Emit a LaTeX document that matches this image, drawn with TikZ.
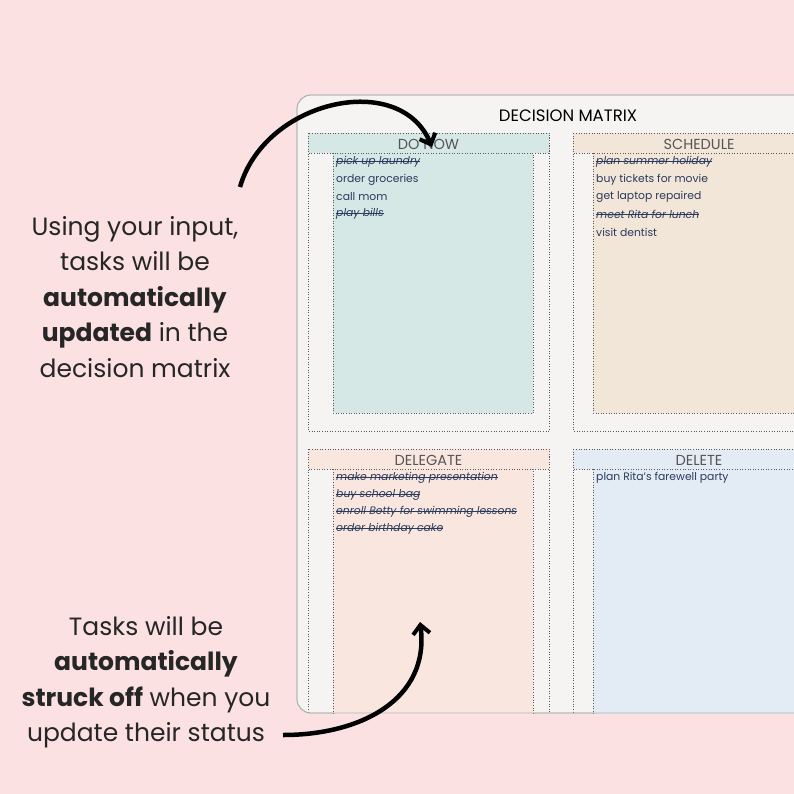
\documentclass[tikz,border=0pt]{standalone}
\usepackage{fontspec}
\setmainfont{Poppins}
\usetikzlibrary{arrows.meta}
\definecolor{bgpink}{HTML}{FBE1E1}
\definecolor{panel}{HTML}{F6F4F3}
\definecolor{teal}{HTML}{D6E8E6}
\definecolor{sand}{HTML}{F2E6D9}
\definecolor{peach}{HTML}{F9E7DF}
\definecolor{sky}{HTML}{E3EBF5}
\definecolor{navy}{HTML}{2B3A5C}
\definecolor{hdr}{HTML}{555555}
\tikzset{
 dotb/.style={draw=gray!70!black, dotted, line width=0.6pt},
 hdrtext/.style={font=\fontsize{14.5}{15}\selectfont, text=hdr},
 task/.style={anchor=west, inner sep=0pt, font=\fontsize{10.8}{11}\selectfont, text=navy},
 big/.style={align=center, font=\fontsize{25}{35.5}\selectfont, text=black!85},
 arr/.style={line width=4.5pt, -{Straight Barb[length=9pt,width=17pt,line width=4pt]}}
}
\newsavebox\strkbox
\newcommand{\done}[1]{\sbox\strkbox{\itshape #1}\rlap{\usebox\strkbox}\rule[0.28em]{\wd\strkbox}{0.7pt}}
\begin{document}
\begin{tikzpicture}[x=1pt,y=-1pt]
\useasboundingbox (0,0) rectangle (794,794);
\fill[bgpink] (0,0) rectangle (794,794);
\clip (0,0) rectangle (794,794);
\filldraw[fill=panel, draw=gray!60, line width=0.8pt, rounded corners=14pt] (297,95) rectangle (820,713);
\node[font=\fontsize{16.5}{17}\selectfont] (title) at (568,116) {DECISION MATRIX};
% Q1
\draw[dotb] (308,133) rectangle (549,431);
\fill[teal] (308,133) rectangle (549,153);
\draw[dotb] (308,133) rectangle (549,153);
\filldraw[fill=teal, dotb] (333,153) rectangle (533,413);
\node[hdrtext] (h1) at (428.5,144) {DO NOW};
\node[task] (t11) at (336,162) {\done{pick up laundry}};
\node[task] (t12) at (336,180) {order groceries};
\node[task] (t13) at (336,197) {call mom};
\node[task] (t14) at (336,214) {\done{play bills}};
% Q2
\draw[dotb] (573,133) rectangle (820,431);
\fill[sand] (573,133) rectangle (820,153);
\draw[dotb] (573,133) rectangle (820,153);
\filldraw[fill=sand, dotb] (593,153) rectangle (820,413);
\node[hdrtext] (h2) at (699,144) {SCHEDULE};
\node[task] (t21) at (596,162) {\done{plan summer holiday}};
\node[task] (t22) at (596,180) {buy tickets for movie};
\node[task] (t23) at (596,197) {get laptop repaired};
\node[task] (t24) at (596,214) {\done{meet Rita for lunch}};
\node[task] (t25) at (596,232) {visit dentist};
% Q3
\draw[dotb] (308,449) rectangle (549,720);
\fill[peach] (308,449) rectangle (549,469);
\draw[dotb] (308,449) rectangle (549,469);
\filldraw[fill=peach, dotb] (333,469) rectangle (533,720);
\node[hdrtext] (h3) at (428.5,460) {DELEGATE};
\node[task] (t31) at (336,478) {\done{make marketing presentation}};
\node[task] (t32) at (336,495) {\done{buy school bag}};
\node[task] (t33) at (336,512) {\done{enroll Betty for swimming lessons}};
\node[task] (t34) at (336,529) {\done{order birthday cake}};
% Q4
\draw[dotb] (573,449) rectangle (820,720);
\fill[sky] (573,449) rectangle (820,469);
\draw[dotb] (573,449) rectangle (820,469);
\filldraw[fill=sky, dotb] (593,469) rectangle (820,720);
\node[hdrtext] (h4) at (699,460) {DELETE};
\node[task] (t41) at (596,478) {plan Rita's farewell party};
% cover below panel
\fill[bgpink] (290,714) rectangle (794,794);
\draw[gray!60, line width=0.8pt, rounded corners=14pt] (297,95) rectangle (820,713);
% left texts
\node[big] (txt1) at (135,297) {Using your input,\\tasks will be\\\textbf{automatically}\\\textbf{updated} in the\\decision matrix};
\node[big] (txt2) at (146,682) {Tasks will be\\\textbf{automatically}\\\textbf{struck off} when you\\update their status};
% arrows
\coordinate (a1s) at (240,187);
\coordinate (a1e) at (432,147);
\draw[arr] (a1s) .. controls (265,100) and (400,70) .. (a1e);
\coordinate (a2s) at (283,735);
\coordinate (a2e) at (420,622);
\draw[arr] (a2s) .. controls (360,735) and (430,700) .. (a2e);
\end{tikzpicture}
\end{document}
